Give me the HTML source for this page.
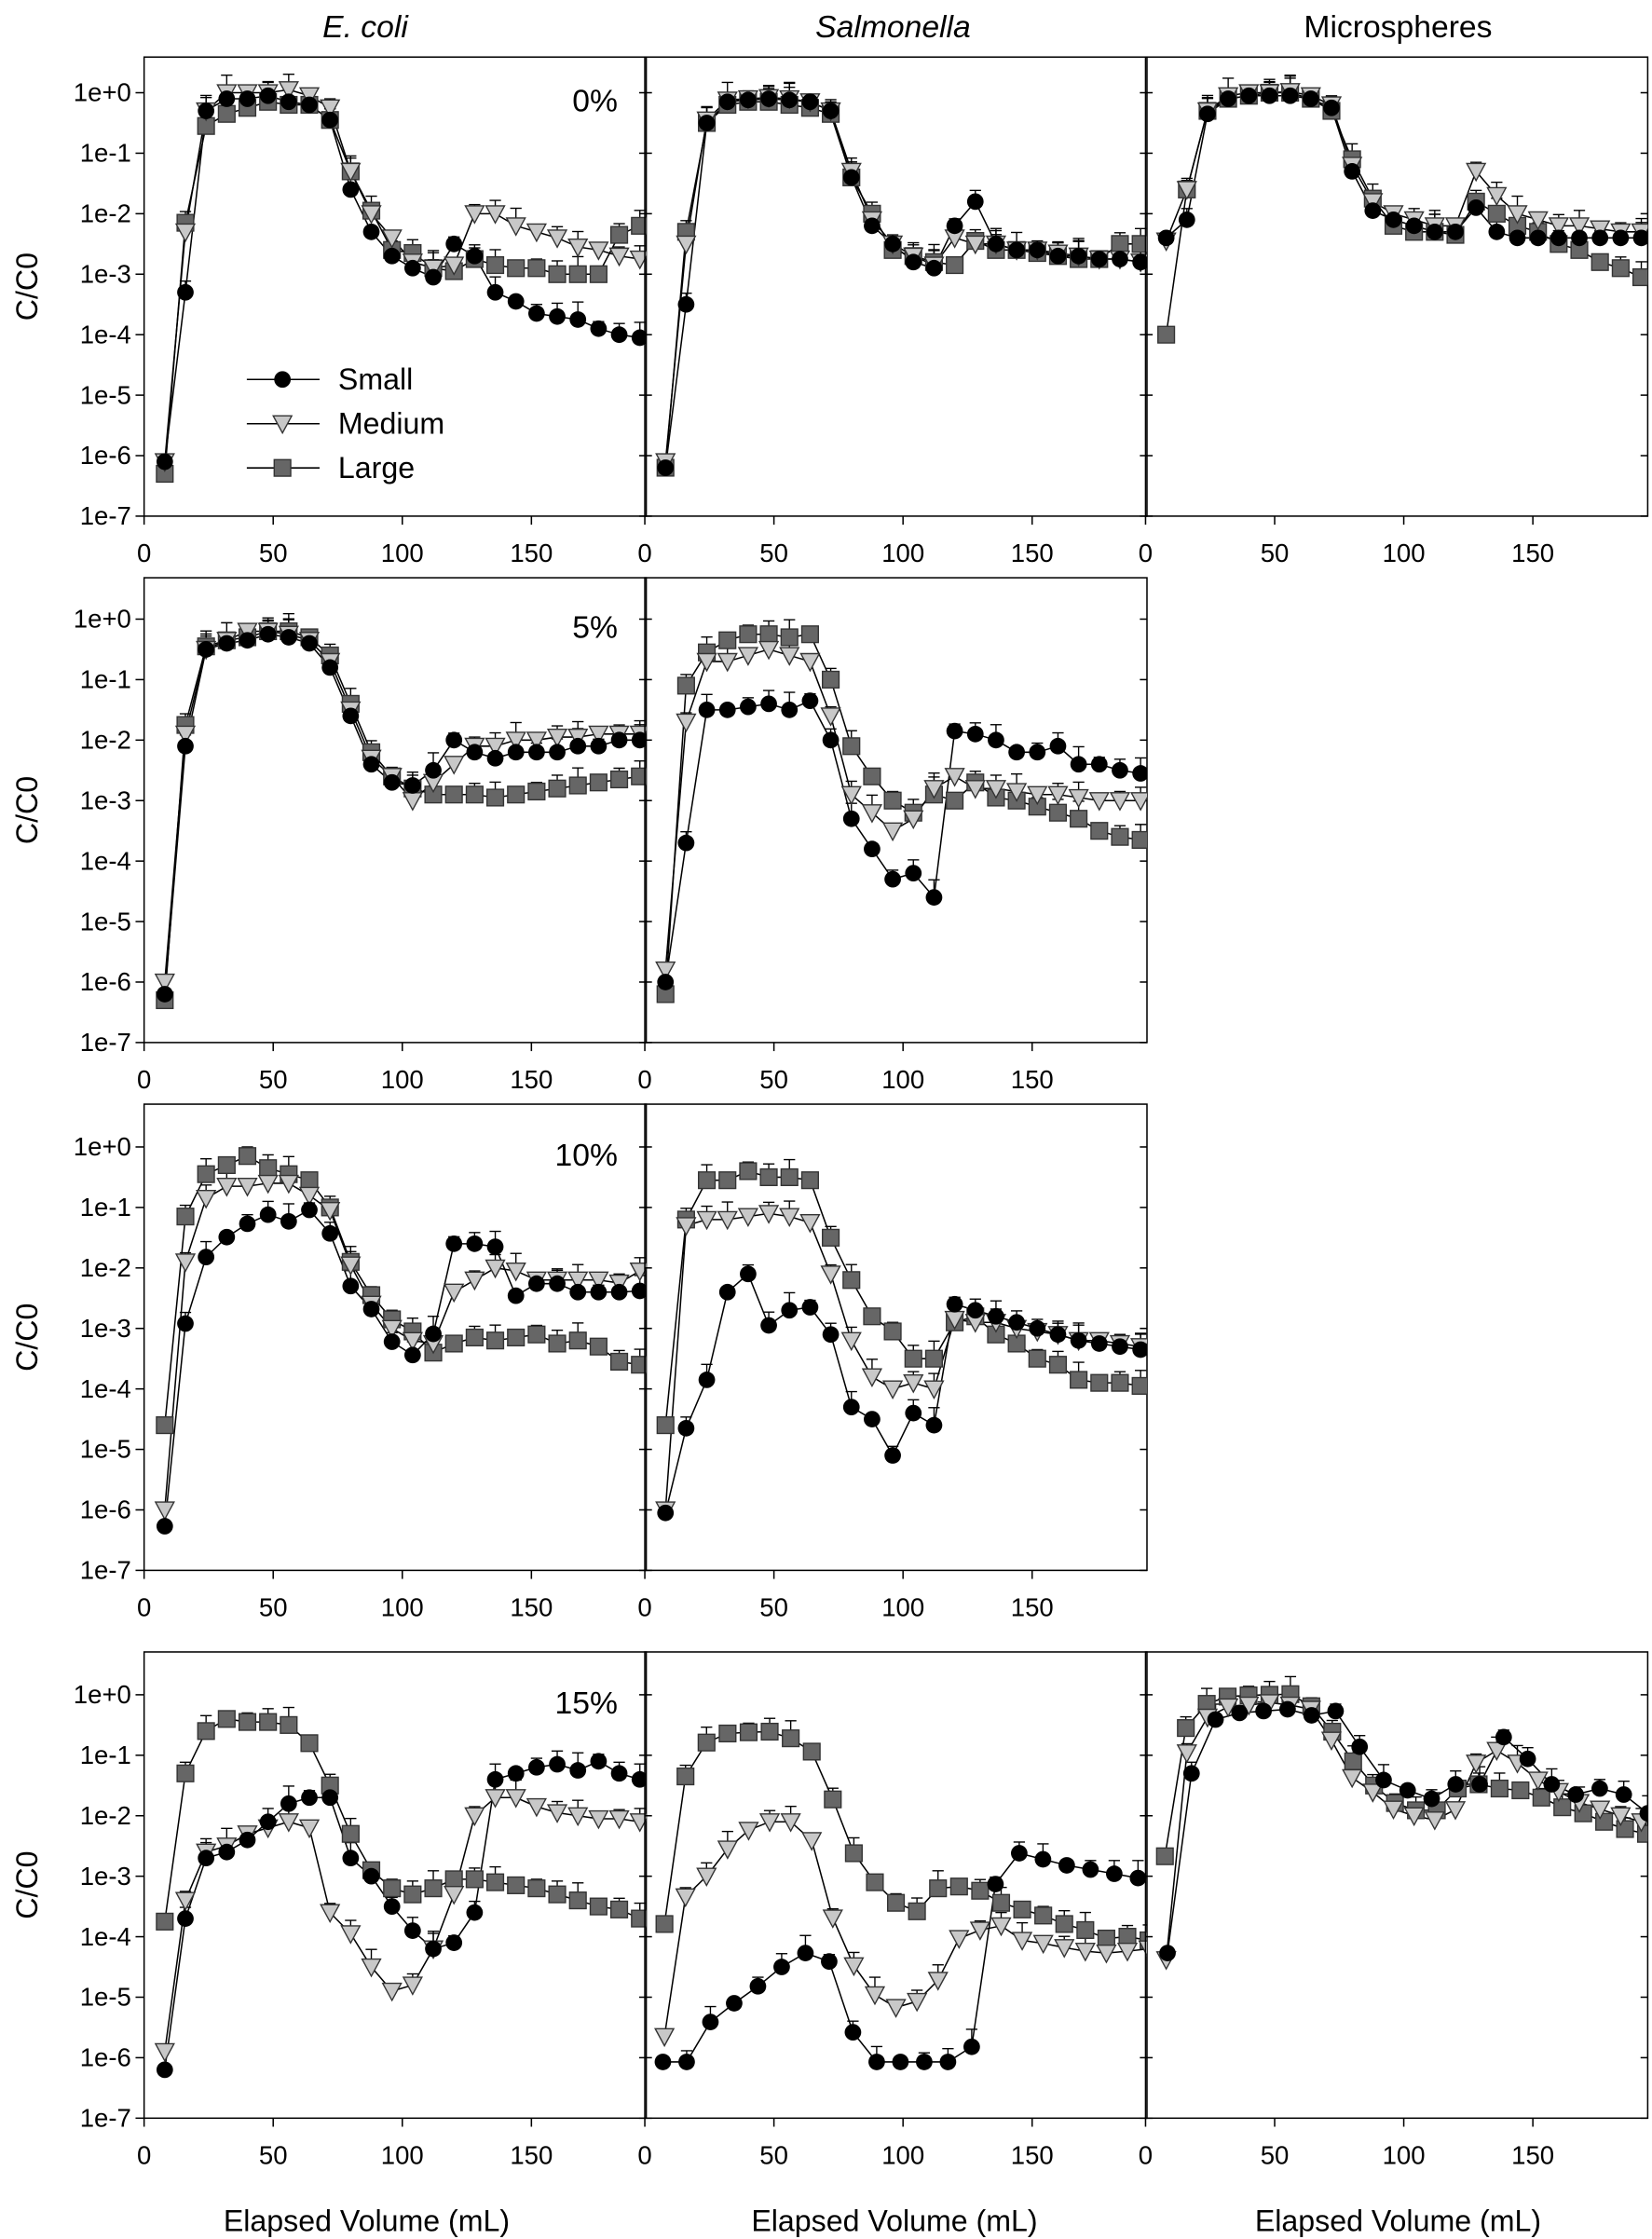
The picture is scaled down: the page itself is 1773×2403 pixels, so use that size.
<!DOCTYPE html>
<html><head><meta charset="utf-8"><style>
html,body{margin:0;padding:0;background:#fff;}
svg{display:block;}
text{font-family:"Liberation Sans",Arial,sans-serif;fill:#000;}
</style></head><body>
<svg id="s" xmlns="http://www.w3.org/2000/svg" width="1773" height="2403" viewBox="0 0 1158 1569.5">
<rect x="0" y="0" width="1158" height="1570" fill="#fff"/>
<g id="g"></g>
<text x="256" y="26" font-size="22" font-style="italic" text-anchor="middle">E. coli</text>
<text x="626" y="26" font-size="22" font-style="italic" text-anchor="middle">Salmonella</text>
<text x="980" y="26" font-size="22" text-anchor="middle">Microspheres</text>
<text x="257" y="1564" font-size="21" text-anchor="middle">Elapsed Volume (mL)</text>
<text x="627" y="1564" font-size="21" text-anchor="middle">Elapsed Volume (mL)</text>
<text x="980" y="1564" font-size="21" text-anchor="middle">Elapsed Volume (mL)</text>
</svg>
<script>
const NS="http://www.w3.org/2000/svg";
const G=document.getElementById('g');
function el(t,a,txt){const e=document.createElementNS(NS,t);for(const k in a)e.setAttribute(k,a[k]);if(txt!==undefined)e.textContent=txt;G.appendChild(e);return e;}
const rows=[{top:40,y0:65},{top:405,y0:434},{top:774,y0:804},{top:1158,y0:1188}];
const cols=[101,452,803];
const W=352, D=42.4, PX=1.81;
function seq(start,step,arr){return arr.map((v,i)=>[start+step*i,v]);}
const P={
"0-0":{lab:"0%",S:seq(8,8,[-6.1,-3.3,-0.3,-0.1,-0.1,-0.05,-0.15,-0.2,-0.45,-1.6,-2.3,-2.7,-2.9,-3.05,-2.5,-2.7,-3.3,-3.45,-3.65,-3.7,-3.75,-3.9,-4.0,-4.05]),
M:seq(8,8,[-6.1,-2.3,-0.3,0,0,0,0.05,-0.05,-0.25,-1.3,-2.0,-2.4,-2.8,-2.9,-2.85,-2.0,-2.0,-2.2,-2.3,-2.4,-2.55,-2.6,-2.7,-2.75]),
L:seq(8,8,[-6.3,-2.15,-0.55,-0.35,-0.25,-0.15,-0.2,-0.2,-0.45,-1.3,-1.95,-2.6,-2.65,-2.9,-2.95,-2.75,-2.85,-2.9,-2.9,-3.0,-3.0,-3.0,-2.35,-2.2])},
"0-1":{S:seq(8,8,[-6.2,-3.5,-0.5,-0.15,-0.12,-0.1,-0.12,-0.15,-0.3,-1.4,-2.2,-2.5,-2.8,-2.9,-2.2,-1.8,-2.5,-2.6,-2.6,-2.7,-2.7,-2.75,-2.75,-2.8]),
M:seq(8,8,[-6.1,-2.5,-0.45,-0.12,-0.1,-0.08,-0.1,-0.15,-0.3,-1.3,-2.1,-2.5,-2.7,-2.85,-2.4,-2.5,-2.5,-2.6,-2.6,-2.65,-2.7,-2.75,-2.75,-2.8]),
L:seq(8,8,[-6.2,-2.3,-0.5,-0.2,-0.15,-0.15,-0.2,-0.25,-0.35,-1.4,-2.0,-2.6,-2.7,-2.8,-2.85,-2.45,-2.6,-2.6,-2.65,-2.7,-2.75,-2.75,-2.5,-2.5])},
"0-2":{S:seq(8,8,[-2.4,-2.1,-0.35,-0.1,-0.05,-0.05,-0.05,-0.1,-0.25,-1.3,-1.95,-2.1,-2.2,-2.3,-2.3,-1.9,-2.3,-2.4,-2.4,-2.4,-2.4,-2.4,-2.4,-2.4]),
M:seq(8,8,[-2.45,-1.6,-0.3,-0.05,0,0,0.02,-0.05,-0.2,-1.2,-1.8,-2.0,-2.1,-2.2,-2.2,-1.3,-1.7,-2.0,-2.1,-2.2,-2.2,-2.25,-2.3,-2.3]),
L:seq(8,8,[-4.0,-1.6,-0.3,-0.1,-0.05,0,0,-0.1,-0.3,-1.1,-1.75,-2.2,-2.3,-2.3,-2.35,-1.8,-2.0,-2.2,-2.3,-2.5,-2.6,-2.8,-2.9,-3.05])},
"1-0":{lab:"5%",S:seq(8,8,[-6.2,-2.1,-0.5,-0.4,-0.35,-0.25,-0.3,-0.4,-0.8,-1.6,-2.4,-2.7,-2.75,-2.5,-2.0,-2.2,-2.3,-2.2,-2.2,-2.2,-2.1,-2.1,-2.0,-2.0]),
M:seq(8,8,[-6.0,-1.9,-0.5,-0.35,-0.2,-0.2,-0.25,-0.35,-0.7,-1.5,-2.3,-2.6,-3.0,-2.7,-2.4,-2.1,-2.1,-2.0,-2.0,-1.95,-1.95,-1.9,-1.9,-1.9]),
L:seq(8,8,[-6.3,-1.75,-0.45,-0.35,-0.3,-0.2,-0.2,-0.3,-0.6,-1.4,-2.2,-2.6,-2.8,-2.9,-2.9,-2.9,-2.95,-2.9,-2.85,-2.8,-2.75,-2.7,-2.65,-2.6])},
"1-1":{S:seq(8,8,[-6.0,-3.7,-1.5,-1.5,-1.45,-1.4,-1.5,-1.35,-2.0,-3.3,-3.8,-4.3,-4.2,-4.6,-1.85,-1.9,-2.0,-2.2,-2.2,-2.1,-2.4,-2.4,-2.5,-2.55]),
M:seq(8,8,[-5.8,-1.7,-0.7,-0.7,-0.6,-0.5,-0.6,-0.7,-1.6,-2.9,-3.2,-3.5,-3.3,-2.8,-2.6,-2.8,-2.8,-2.85,-2.9,-2.9,-2.95,-3.0,-3.0,-3.0]),
L:seq(8,8,[-6.2,-1.1,-0.55,-0.35,-0.25,-0.25,-0.3,-0.25,-1.0,-2.1,-2.6,-3.0,-3.2,-2.9,-3.0,-2.7,-2.95,-3.0,-3.1,-3.2,-3.3,-3.5,-3.6,-3.65])},
"2-0":{lab:"10%",S:seq(8,8,[-6.27,-2.92,-1.82,-1.49,-1.27,-1.12,-1.23,-1.04,-1.43,-2.3,-2.68,-3.22,-3.44,-3.09,-1.6,-1.6,-1.65,-2.46,-2.26,-2.26,-2.4,-2.4,-2.4,-2.38]),
M:seq(8,8,[-6.0,-1.9,-0.85,-0.65,-0.65,-0.6,-0.6,-0.8,-1.05,-1.95,-2.6,-3.0,-3.2,-3.25,-2.4,-2.2,-2.0,-2.05,-2.2,-2.2,-2.2,-2.2,-2.25,-2.05]),
L:seq(8,8,[-4.6,-1.15,-0.45,-0.3,-0.15,-0.35,-0.45,-0.55,-1.0,-1.9,-2.45,-2.85,-3.05,-3.4,-3.25,-3.15,-3.2,-3.15,-3.1,-3.25,-3.2,-3.3,-3.55,-3.6])},
"2-1":{S:seq(8,8,[-6.05,-4.65,-3.85,-2.4,-2.1,-2.95,-2.7,-2.65,-3.1,-4.3,-4.5,-5.1,-4.4,-4.6,-2.6,-2.7,-2.8,-2.9,-3.0,-3.1,-3.2,-3.25,-3.3,-3.35]),
M:seq(8,8,[-6.0,-1.3,-1.2,-1.2,-1.15,-1.1,-1.15,-1.25,-2.1,-3.2,-3.8,-4.0,-3.9,-4.0,-2.85,-2.9,-2.9,-3.0,-3.05,-3.1,-3.2,-3.2,-3.25,-3.3]),
L:seq(8,8,[-4.6,-1.2,-0.55,-0.55,-0.4,-0.5,-0.5,-0.55,-1.5,-2.2,-2.8,-3.05,-3.5,-3.5,-2.9,-2.8,-3.1,-3.25,-3.5,-3.6,-3.85,-3.9,-3.9,-3.95])},
"3-0":{lab:"15%",S:seq(8,8,[-6.2,-3.7,-2.7,-2.6,-2.4,-2.1,-1.8,-1.7,-1.7,-2.7,-3.0,-3.5,-3.9,-4.2,-4.1,-3.6,-1.4,-1.3,-1.2,-1.15,-1.25,-1.1,-1.3,-1.4]),
M:seq(8,8,[-5.9,-3.4,-2.6,-2.5,-2.3,-2.2,-2.1,-2.2,-3.6,-3.95,-4.5,-4.9,-4.8,-4.2,-3.3,-2.0,-1.7,-1.7,-1.85,-1.95,-2.0,-2.05,-2.05,-2.1]),
L:seq(8,8,[-3.75,-1.3,-0.6,-0.4,-0.45,-0.45,-0.5,-0.8,-1.5,-2.3,-2.9,-3.2,-3.3,-3.2,-3.05,-3.05,-3.1,-3.15,-3.2,-3.3,-3.4,-3.5,-3.55,-3.7])},
"3-1":{S:seq(7,9.2,[-6.07,-6.07,-5.41,-5.1,-4.82,-4.5,-4.27,-4.41,-5.58,-6.07,-6.07,-6.07,-6.07,-5.82,-3.13,-2.62,-2.72,-2.82,-2.89,-2.96,-3.03]),
M:seq(7.6,8.15,[-5.65,-3.34,-3.0,-2.55,-2.24,-2.1,-2.1,-2.41,-3.69,-4.48,-4.96,-5.17,-5.07,-4.72,-4.03,-3.89,-3.82,-4.06,-4.11,-4.18,-4.24,-4.27,-4.24,-4.2]),
L:seq(7.6,8.15,[-3.79,-1.35,-0.79,-0.64,-0.62,-0.61,-0.72,-0.94,-1.73,-2.62,-3.1,-3.44,-3.58,-3.2,-3.17,-3.24,-3.44,-3.55,-3.65,-3.79,-3.89,-4.03,-4.0,-4.06])},
"3-2":{S:seq(8.5,9.3,[-4.27,-1.3,-0.41,-0.3,-0.27,-0.24,-0.34,-0.27,-0.86,-1.41,-1.58,-1.72,-1.48,-1.48,-0.7,-1.06,-1.48,-1.65,-1.55,-1.65,-1.96]),
M:seq(8,8,[-4.38,-0.96,-0.37,-0.2,-0.17,-0.13,-0.17,-0.24,-0.75,-1.37,-1.61,-1.89,-2.0,-2.07,-1.9,-1.13,-0.92,-1.13,-1.41,-1.6,-1.78,-1.89,-2.0,-2.1]),
L:seq(7.5,8.1,[-2.67,-0.55,-0.15,-0.03,-0.01,0,0.01,-0.19,-0.61,-1.1,-1.5,-1.79,-1.91,-1.91,-1.55,-1.48,-1.55,-1.58,-1.7,-1.86,-1.96,-2.1,-2.22,-2.3])}
};
const ylabs=["1e+0","1e-1","1e-2","1e-3","1e-4","1e-5","1e-6","1e-7"];
let cid=0;
for(const key in P){
  const [r,c]=key.split('-').map(Number);
  const R=rows[r], x0=cols[c], y0=R.y0, bot=y0+7*D, top=R.top;
  const X=v=>x0+v*PX, Y=v=>y0-v*D;
  const id="c"+(cid++);
  const cp=el('clipPath',{id});
  const rc=document.createElementNS(NS,'rect');rc.setAttribute('x',x0);rc.setAttribute('y',top);rc.setAttribute('width',W);rc.setAttribute('height',bot-top);cp.appendChild(rc);
  el('rect',{x:x0,y:top,width:W,height:bot-top,fill:'none',stroke:'#000','stroke-width':1});
  for(let i=0;i<8;i++){const y=y0+i*D;
    if(c===0){el('line',{x1:x0-6,y1:y,x2:x0,y2:y,stroke:'#000','stroke-width':1});
      el('text',{x:x0-9,y:y+6,'font-size':18,'text-anchor':'end'},ylabs[i]);}
    else el('line',{x1:x0,y1:y,x2:x0+5,y2:y,stroke:'#000','stroke-width':1});
    el('line',{x1:x0+W-5,y1:y,x2:x0+W,y2:y,stroke:'#000','stroke-width':1});
  }
  for(const t of [0,50,100,150]){const x=X(t);
    el('line',{x1:x,y1:bot,x2:x,y2:bot+6,stroke:'#000','stroke-width':1});
    el('text',{x:x,y:bot+32,'font-size':18,'text-anchor':'middle'},String(t));}
  if(c===0){el('text',{x:26,y:(top+bot)/2,'font-size':21,'text-anchor':'middle',transform:`rotate(-90 26 ${(top+bot)/2})`},"C/C0");}
  if(P[key].lab) el('text',{x:x0+W-20,y:y0+13,'font-size':22,'text-anchor':'end'},P[key].lab);
  const g=el('g',{'clip-path':`url(#${id})`});
  const add=(t,a)=>{const e=document.createElementNS(NS,t);for(const k in a)e.setAttribute(k,a[k]);g.appendChild(e);return e;};
  for(const s of ['L','M','S']){
    const d=P[key][s];
    d.forEach((p,i)=>{ if(i<1)return; const len=0.08+((i*37+s.charCodeAt(0)*13)%7)*0.035;
      const x=X(p[0]),y=Y(p[1]),y2=Y(p[1]+len);
      add('line',{x1:x,y1:y,x2:x,y2:y2,stroke:'#000','stroke-width':0.9});
      add('line',{x1:x-4,y1:y2,x2:x+4,y2:y2,stroke:'#000','stroke-width':0.9});});
  }
  for(const s of ['L','M','S']){
    const d=P[key][s];
    add('polyline',{points:d.map(p=>X(p[0])+','+Y(p[1])).join(' '),fill:'none',stroke:'#000','stroke-width':1});
  }
  for(const s of ['L','M','S']){
    for(const p of P[key][s]){const x=X(p[0]),y=Y(p[1]);
      if(s==='S') add('circle',{cx:x,cy:y,r:5.8,fill:'#000'});
      else if(s==='M') add('polygon',{points:`${x-6.5},${y-5.5} ${x+6.5},${y-5.5} ${x},${y+6.5}`,fill:'#c8c8c8',stroke:'#333','stroke-width':0.9});
      else add('rect',{x:x-5.8,y:y-5.8,width:11.6,height:11.6,fill:'#666',stroke:'#333','stroke-width':0.9});
    }
  }
}
const ly=[266,297,328];
ly.forEach((y,i)=>{el('line',{x1:173,y1:y,x2:224,y2:y,stroke:'#000','stroke-width':1});});
el('circle',{cx:198,cy:266,r:5.8,fill:'#000'});
el('polygon',{points:`191.5,291.5 204.5,291.5 198,303.5`,fill:'#c8c8c8',stroke:'#333','stroke-width':0.9});
el('rect',{x:192.2,y:322.2,width:11.6,height:11.6,fill:'#666',stroke:'#333','stroke-width':0.9});
el('text',{x:237,y:273,'font-size':21},"Small");
el('text',{x:237,y:304,'font-size':21},"Medium");
el('text',{x:237,y:335,'font-size':21},"Large");
</script>
</body></html>
